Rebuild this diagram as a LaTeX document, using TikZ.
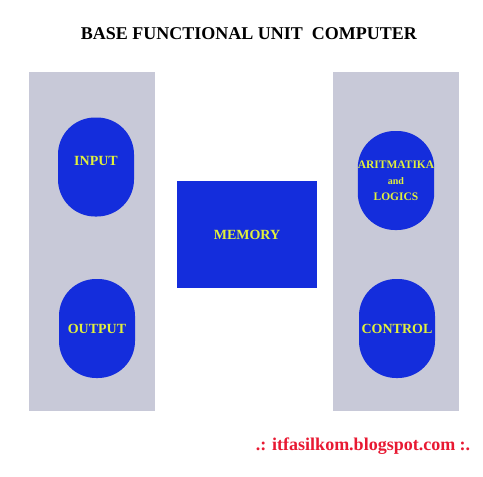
\documentclass[tikz,border=0pt]{standalone}
\usepackage{fontspec}
\setmainfont{Liberation Serif}
\usetikzlibrary{positioning}
\definecolor{panelgray}{RGB}{200,201,216}
\definecolor{unitblue}{RGB}{20,45,220}
\definecolor{unityellow}{RGB}{225,240,60}
\definecolor{footred}{RGB}{232,25,50}

\begin{document}
\begin{tikzpicture}[x=1pt, y=-1pt,
    PANEL/.style={rectangle, fill=panelgray, minimum width=126pt, minimum height=339pt, inner sep=0pt},
    UNIT/.style={rectangle, rounded corners=37pt, fill=unitblue, minimum width=76pt, minimum height=99pt, inner sep=0pt, align=center, text=unityellow, font=\fontsize{14}{15}\selectfont\bfseries},
    MEM/.style={rectangle, fill=unitblue, minimum width=140pt, minimum height=107pt, inner sep=0pt, text=unityellow, font=\fontsize{14}{15}\selectfont\bfseries}]

    \useasboundingbox[fill=white] (0,0) rectangle (483,477);

    \node[font=\fontsize{18}{20}\selectfont\bfseries] (TITLE) at (249,34) {BASE FUNCTIONAL UNIT\ \ COMPUTER};

    \node[PANEL] (LEFT) at (92,241.5) {};
    \node[PANEL] (RIGHT) at (396,241.5) {};

    \node[UNIT, text height=9pt, text depth=12pt] (IN) at (96,167) {INPUT};
    \node[UNIT] (OUT) at (97,328.5) {OUTPUT};
    \node[UNIT, font=\fontsize{11.5}{16}\selectfont\bfseries] (ALU) at (396,180.5)
        {ARITMATIKA\\{\fontsize{10}{16}\selectfont and}\\LOGICS};
    \node[UNIT] (CTRL) at (397,328.5) {CONTROL};

    \node[MEM] (MEMORY) at (247,234.5) {MEMORY};

    \node[text=footred, font=\fontsize{18}{20}\selectfont\bfseries] (SITE) at (363,446) {.: itfasilkom.blogspot.com :.};
\end{tikzpicture}
\end{document}
